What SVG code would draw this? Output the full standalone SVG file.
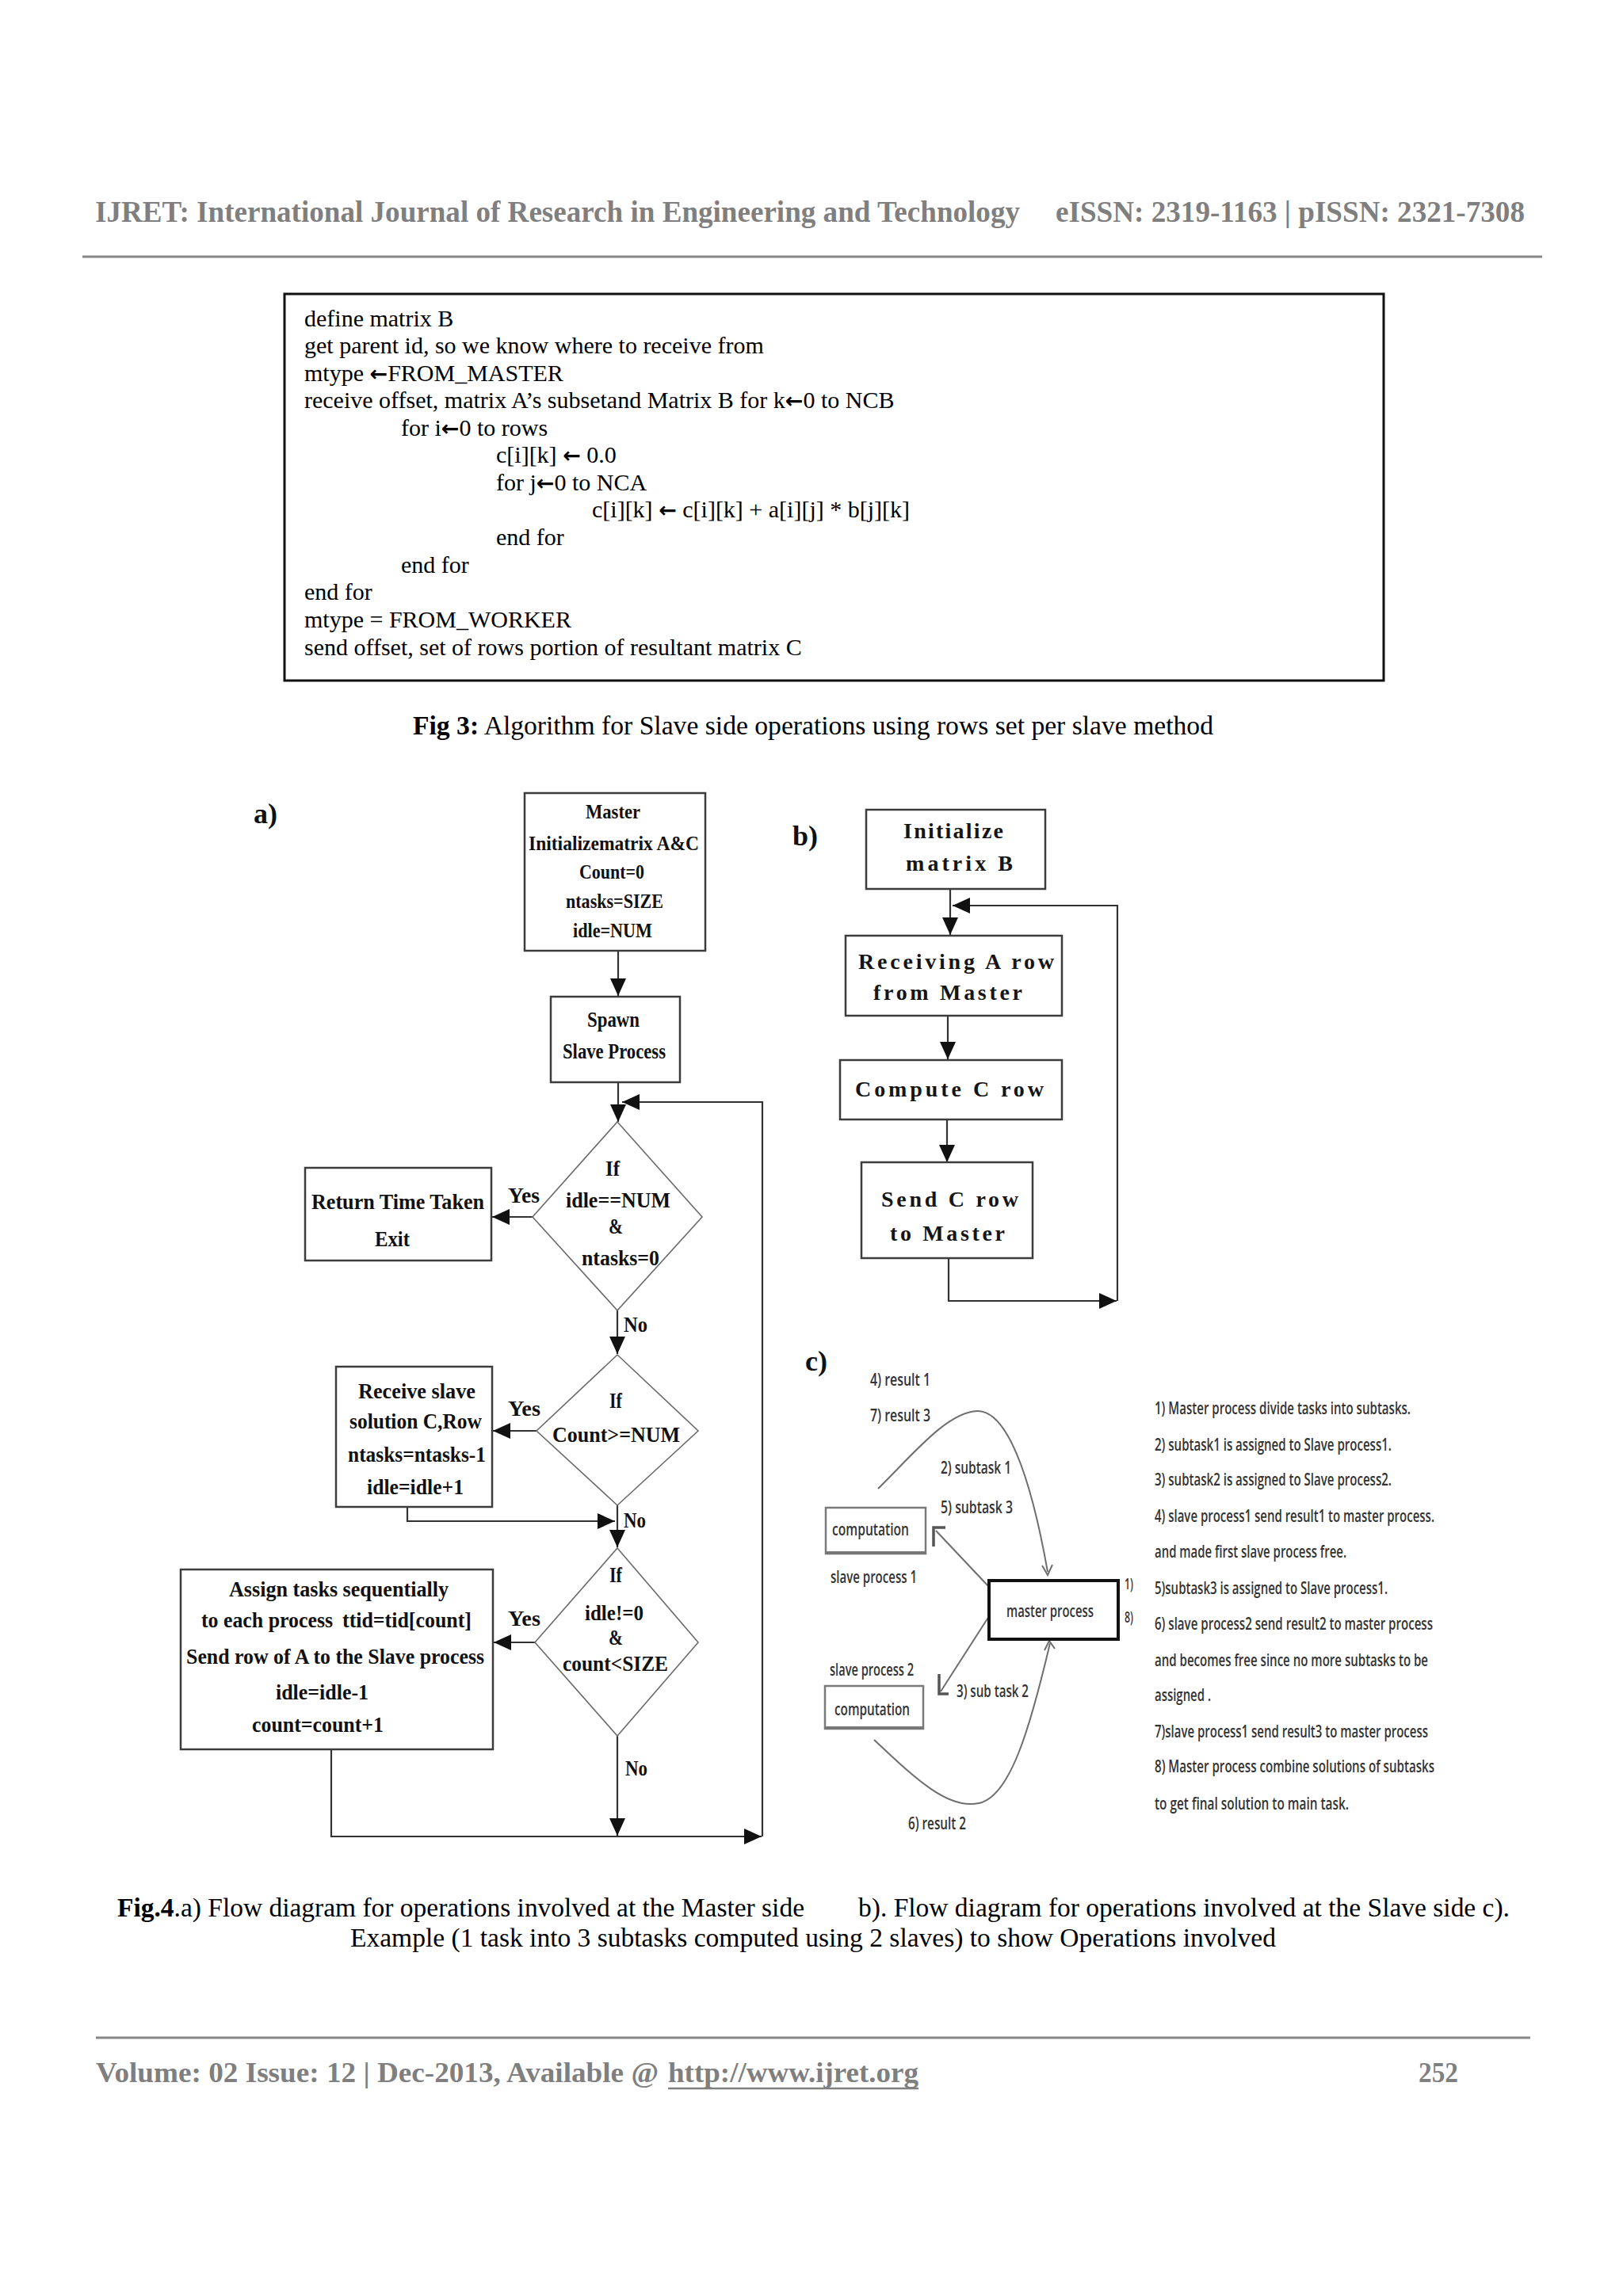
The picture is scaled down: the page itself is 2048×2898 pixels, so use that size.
<svg xmlns="http://www.w3.org/2000/svg" width="2048" height="2898" viewBox="0 0 2048 2898">
<style>
.hdr{font-family:"Liberation Serif","Times New Roman",serif;font-weight:bold;fill:#7f7f7f;}
.alg{font-family:"Liberation Serif","Times New Roman",serif;font-size:30px;fill:#000;}
.arr{font-family:"DejaVu Sans",sans-serif;font-size:27px;font-weight:bold;}
.cap{font-family:"Liberation Serif","Times New Roman",serif;font-size:33px;fill:#000;}
.bold{font-weight:bold;}
.fa{font-family:"Liberation Serif","Times New Roman",serif;font-weight:bold;font-size:27px;fill:#111;}
.fm{font-family:"Liberation Serif","Times New Roman",serif;font-weight:bold;font-size:25px;fill:#111;}
.fb{font-family:"Liberation Serif","Times New Roman",serif;font-weight:bold;font-size:28px;fill:#151515;}
.fc{font-family:"Open Sans","Liberation Sans",sans-serif;font-weight:600;font-size:22px;fill:#333;}
.fn{font-family:"Open Sans","Liberation Sans",sans-serif;font-weight:600;font-size:19px;fill:#333;}
.fl{font-family:"Open Sans","Liberation Sans",sans-serif;font-weight:600;font-size:22px;fill:#333;}
.lab{font-family:"Liberation Serif","Times New Roman",serif;font-weight:bold;font-size:36px;fill:#111;}
.box{fill:#fff;stroke:#3c3c3c;stroke-width:2.5;}
.dia{fill:#fff;stroke:#6a6a6a;stroke-width:1.6;}
.con{fill:none;stroke:#333;stroke-width:2.2;}
.ccon{fill:none;stroke:#6e6e6e;stroke-width:2;}
.chead{fill:none;stroke:#555;stroke-width:3.5;}
.sbox{fill:#fff;stroke:#7a7a7a;stroke-width:2.5;}
.rule{stroke:#888;stroke-width:3;}
</style>
<defs>
<marker id="ah" viewBox="0 0 22 20" refX="22" refY="10" markerWidth="22" markerHeight="20" markerUnits="userSpaceOnUse" orient="auto"><path d="M0,0 L22,10 L0,20 z" fill="#111"/></marker>
</defs>
<rect width="2048" height="2898" fill="#fff"/>

<g id="header">
<text class="hdr" x="120" y="280" font-size="37" textLength="1167" lengthAdjust="spacingAndGlyphs">IJRET: International Journal of Research in Engineering and Technology</text>
<text class="hdr" x="1332" y="280" font-size="37" textLength="592" lengthAdjust="spacingAndGlyphs">eISSN: 2319-1163 | pISSN: 2321-7308</text>
<line class="rule" x1="104" y1="324" x2="1946" y2="324"/>
</g>

<g id="algorithm">
<rect x="359" y="371" width="1387" height="488" fill="none" stroke="#111" stroke-width="3"/>
<text class="alg" x="384" y="412">define matrix B</text>
<text class="alg" x="384" y="446">get parent id, so we know where to receive from</text>
<text class="alg" x="384" y="481">mtype <tspan class="arr">←</tspan>FROM_MASTER</text>
<text class="alg" x="384" y="515">receive offset, matrix A’s subsetand Matrix B for k<tspan class="arr">←</tspan>0 to NCB</text>
<text class="alg" x="506" y="550">for i<tspan class="arr">←</tspan>0 to rows</text>
<text class="alg" x="626" y="584">c[i][k] <tspan class="arr">←</tspan> 0.0</text>
<text class="alg" x="626" y="619">for j<tspan class="arr">←</tspan>0 to NCA</text>
<text class="alg" x="747" y="653">c[i][k] <tspan class="arr">←</tspan> c[i][k] + a[i][j] * b[j][k]</text>
<text class="alg" x="626" y="688">end for</text>
<text class="alg" x="506" y="723">end for</text>
<text class="alg" x="384" y="757">end for</text>
<text class="alg" x="384" y="792">mtype = FROM_WORKER</text>
<text class="alg" x="384" y="827">send offset, set of rows portion of resultant matrix C</text>
</g>
<text id="fig3-caption" class="cap" x="521" y="927" textLength="1010" lengthAdjust="spacingAndGlyphs"><tspan class="bold">Fig 3:</tspan> Algorithm for Slave side operations using rows set per slave method</text>

<!-- a) master flow -->
<text id="label-a" class="lab" x="320" y="1039">a)</text>
<g id="connectors-a">
<path class="con" d="M780,1200 V1257" marker-end="url(#ah)"/>
<path class="con" d="M780,1366 V1416" marker-end="url(#ah)"/>
<path class="con" d="M962,2318 V1391 H785" marker-end="url(#ah)"/>
<path class="con" d="M672,1536 H621" marker-end="url(#ah)"/>
<path class="con" d="M779,1654 V1709" marker-end="url(#ah)"/>
<path class="con" d="M677,1806 H622" marker-end="url(#ah)"/>
<path class="con" d="M514,1902 V1920 H776" marker-end="url(#ah)"/>
<path class="con" d="M779,1900 V1953" marker-end="url(#ah)"/>
<path class="con" d="M675,2073 H623" marker-end="url(#ah)"/>
<path class="con" d="M779,2191 V2317" marker-end="url(#ah)"/>
<path class="con" d="M418,2208 V2318 H961" marker-end="url(#ah)"/>
<text class="fa" x="641" y="1518" textLength="40" lengthAdjust="spacingAndGlyphs">Yes</text>
<text class="fa" x="787" y="1681" textLength="30" lengthAdjust="spacingAndGlyphs">No</text>
<text class="fa" x="641" y="1787" textLength="41" lengthAdjust="spacingAndGlyphs">Yes</text>
<text class="fa" x="787" y="1928" textLength="28" lengthAdjust="spacingAndGlyphs">No</text>
<text class="fa" x="641" y="2052" textLength="41" lengthAdjust="spacingAndGlyphs">Yes</text>
<text class="fa" x="789" y="2241" textLength="28" lengthAdjust="spacingAndGlyphs">No</text>
</g>

<g id="node-master">
<rect class="box" x="662" y="1001" width="228" height="199"/>
<text class="fm"><tspan x="739" y="1033" textLength="69" lengthAdjust="spacingAndGlyphs">Master</tspan><tspan x="667" y="1073" textLength="215" lengthAdjust="spacingAndGlyphs">Initializematrix A&amp;C</tspan><tspan x="731" y="1109" textLength="82" lengthAdjust="spacingAndGlyphs">Count=0</tspan><tspan x="714" y="1146" textLength="123" lengthAdjust="spacingAndGlyphs">ntasks=SIZE</tspan><tspan x="723" y="1183" textLength="100" lengthAdjust="spacingAndGlyphs">idle=NUM</tspan></text>
</g>
<g id="node-spawn">
<rect class="box" x="695" y="1258" width="163" height="108"/>
<text class="fa" x="741" y="1296" textLength="66" lengthAdjust="spacingAndGlyphs">Spawn</text>
<text class="fa" x="710" y="1336" textLength="130" lengthAdjust="spacingAndGlyphs">Slave Process</text>
</g>
<g id="node-decision1">
<polygon class="dia" points="779,1416 886,1536 779,1654 672,1536"/>
<text class="fa" x="764" y="1484" textLength="18" lengthAdjust="spacingAndGlyphs">If</text>
<text class="fa" x="714" y="1524" textLength="132" lengthAdjust="spacingAndGlyphs">idle==NUM</text>
<text class="fa" x="768" y="1557" textLength="18" lengthAdjust="spacingAndGlyphs">&amp;</text>
<text class="fa" x="734" y="1597" textLength="98" lengthAdjust="spacingAndGlyphs">ntasks=0</text>
</g>
<g id="node-return">
<rect class="box" x="385" y="1474" width="235" height="117"/>
<text class="fa" x="393" y="1526" textLength="218" lengthAdjust="spacingAndGlyphs">Return Time Taken</text>
<text class="fa" x="473" y="1573" textLength="44" lengthAdjust="spacingAndGlyphs">Exit</text>
</g>
<g id="node-decision2">
<polygon class="dia" points="779,1710 881,1806 779,1900 677,1806"/>
<text class="fa" x="769" y="1777" textLength="16" lengthAdjust="spacingAndGlyphs">If</text>
<text class="fa" x="697" y="1820" textLength="161" lengthAdjust="spacingAndGlyphs">Count&gt;=NUM</text>
</g>
<g id="node-receive">
<rect class="box" x="424" y="1725" width="197" height="177"/>
<text class="fa" x="452" y="1765" textLength="148" lengthAdjust="spacingAndGlyphs">Receive slave</text>
<text class="fa" x="441" y="1803" textLength="167" lengthAdjust="spacingAndGlyphs">solution C,Row</text>
<text class="fa" x="439" y="1845" textLength="174" lengthAdjust="spacingAndGlyphs">ntasks=ntasks-1</text>
<text class="fa" x="463" y="1886" textLength="122" lengthAdjust="spacingAndGlyphs">idle=idle+1</text>
</g>
<g id="node-decision3">
<polygon class="dia" points="779,1954 881,2073 779,2191 675,2073"/>
<text class="fa" x="769" y="1997" textLength="16" lengthAdjust="spacingAndGlyphs">If</text>
<text class="fa" x="738" y="2045" textLength="74" lengthAdjust="spacingAndGlyphs">idle!=0</text>
<text class="fa" x="768" y="2076" textLength="18" lengthAdjust="spacingAndGlyphs">&amp;</text>
<text class="fa" x="710" y="2109" textLength="133" lengthAdjust="spacingAndGlyphs">count&lt;SIZE</text>
</g>
<g id="node-assign">
<rect class="box" x="228" y="1981" width="394" height="227"/>
<text class="fa" x="289" y="2015" textLength="277" lengthAdjust="spacingAndGlyphs">Assign tasks sequentially</text>
<text class="fa" x="254" y="2054" textLength="166" lengthAdjust="spacingAndGlyphs">to each process</text>
<text class="fa" x="432" y="2054" textLength="163" lengthAdjust="spacingAndGlyphs">ttid=tid[count]</text>
<text class="fa" x="235" y="2100" textLength="376" lengthAdjust="spacingAndGlyphs">Send row of A to the Slave process</text>
<text class="fa" x="348" y="2145" textLength="117" lengthAdjust="spacingAndGlyphs">idle=idle-1</text>
<text class="fa" x="318" y="2186" textLength="166" lengthAdjust="spacingAndGlyphs">count=count+1</text>
</g>

<!-- b) slave flow -->
<text id="label-b" class="lab" x="1000" y="1067">b)</text>
<g id="connectors-b">
<path class="con" d="M1199,1122 V1180" marker-end="url(#ah)"/>
<path class="con" d="M1410,1642 V1143 H1202" marker-end="url(#ah)"/>
<path class="con" d="M1196,1282 V1337" marker-end="url(#ah)"/>
<path class="con" d="M1195,1413 V1467" marker-end="url(#ah)"/>
<path class="con" d="M1197,1588 V1642 H1409" marker-end="url(#ah)"/>
</g>
<g id="node-init-b">
<rect class="box" x="1093" y="1022" width="226" height="100"/>
<text class="fb" x="1140" y="1058" textLength="126" lengthAdjust="spacing">Initialize</text>
<text class="fb" x="1143" y="1099" textLength="135" lengthAdjust="spacing">matrix B</text>
</g>
<g id="node-receiving">
<rect class="box" x="1067" y="1181" width="273" height="101"/>
<text class="fb" x="1083" y="1223" textLength="247" lengthAdjust="spacing">Receiving A row</text>
<text class="fb" x="1102" y="1262" textLength="188" lengthAdjust="spacing">from Master</text>
</g>
<g id="node-compute">
<rect class="box" x="1060" y="1338" width="280" height="75"/>
<text class="fb" x="1079" y="1384" textLength="238" lengthAdjust="spacing">Compute C row</text>
</g>
<g id="node-send">
<rect class="box" x="1087" y="1467" width="216" height="121"/>
<text class="fb" x="1112" y="1523" textLength="173" lengthAdjust="spacing">Send C row</text>
<text class="fb" x="1123" y="1566" textLength="145" lengthAdjust="spacing">to Master</text>
</g>

<!-- c) example -->
<text id="label-c" class="lab" x="1016" y="1730" font-size="32">c)</text>
<g id="connectors-c">
<path class="ccon" d="M1108,1879 C1150,1838 1195,1782 1233,1781 C1270,1780 1300,1860 1322,1984"/>
<path class="ccon" d="M1315,1976 L1322,1988 L1328,1975"/>
<path class="ccon" d="M1103,2196 C1150,2240 1195,2285 1235,2276 C1275,2268 1300,2180 1325,2074"/>
<path class="ccon" d="M1318,2083 L1324,2071 L1331,2081"/>
<path class="ccon" d="M1248,2003 L1181,1932"/>
<path class="chead" d="M1193,1928 H1178 V1952"/>
<path class="ccon" d="M1248,2040 L1187,2135"/>
<path class="chead" d="M1185,2113 V2138 H1197"/>
<text class="fc" x="1098" y="1749" textLength="76" lengthAdjust="spacingAndGlyphs">4) result 1</text>
<text class="fc" x="1098" y="1794" textLength="76" lengthAdjust="spacingAndGlyphs">7) result 3</text>
<text class="fc" x="1187" y="1860" textLength="89" lengthAdjust="spacingAndGlyphs">2) subtask 1</text>
<text class="fc" x="1187" y="1910" textLength="91" lengthAdjust="spacingAndGlyphs">5) subtask 3</text>
<text class="fc" x="1207" y="2142" textLength="91" lengthAdjust="spacingAndGlyphs">3) sub task 2</text>
<text class="fc" x="1146" y="2309" textLength="73" lengthAdjust="spacingAndGlyphs">6) result 2</text>
<text class="fn" x="1419" y="2006" textLength="11" lengthAdjust="spacingAndGlyphs">1)</text>
<text class="fn" x="1419" y="2048" textLength="11" lengthAdjust="spacingAndGlyphs">8)</text>
</g>
<g id="node-slave1">
<rect class="sbox" x="1042" y="1903" width="126" height="58"/>
<line x1="1042" y1="1960" x2="1168" y2="1960" stroke="#777" stroke-width="4"/>
<text class="fc" x="1050" y="1938" textLength="97" lengthAdjust="spacingAndGlyphs">computation</text>
<text class="fc" x="1048" y="1998" textLength="109" lengthAdjust="spacingAndGlyphs">slave process 1</text>
</g>
<g id="node-master-process">
<rect x="1248" y="1995" width="163" height="74" fill="#fff" stroke="#111" stroke-width="4"/>
<text class="fc" x="1270" y="2041" textLength="110" lengthAdjust="spacingAndGlyphs">master process</text>
</g>
<g id="node-slave2">
<text class="fc" x="1047" y="2115" textLength="106" lengthAdjust="spacingAndGlyphs">slave process 2</text>
<rect class="sbox" x="1041" y="2128" width="124" height="54"/>
<line x1="1041" y1="2181" x2="1165" y2="2181" stroke="#777" stroke-width="4"/>
<text class="fc" x="1053" y="2165" textLength="95" lengthAdjust="spacingAndGlyphs">computation</text>
</g>
<g id="steps-c">
<text class="fl"><tspan x="1457" y="1785" textLength="323" lengthAdjust="spacingAndGlyphs">1) Master process divide tasks into subtasks.</tspan><tspan x="1457" y="1831" textLength="299" lengthAdjust="spacingAndGlyphs">2) subtask1 is assigned to Slave process1.</tspan><tspan x="1457" y="1875" textLength="299" lengthAdjust="spacingAndGlyphs">3) subtask2 is assigned to Slave process2.</tspan><tspan x="1457" y="1921" textLength="353" lengthAdjust="spacingAndGlyphs">4) slave process1 send result1 to master process.</tspan><tspan x="1457" y="1966" textLength="242" lengthAdjust="spacingAndGlyphs">and made first slave process free.</tspan><tspan x="1457" y="2012" textLength="294" lengthAdjust="spacingAndGlyphs">5)subtask3 is assigned to Slave process1.</tspan><tspan x="1457" y="2057" textLength="351" lengthAdjust="spacingAndGlyphs">6) slave process2 send result2 to master process</tspan><tspan x="1457" y="2103" textLength="345" lengthAdjust="spacingAndGlyphs">and becomes free since no more subtasks to be</tspan><tspan x="1457" y="2147" textLength="71" lengthAdjust="spacingAndGlyphs">assigned .</tspan><tspan x="1457" y="2193" textLength="345" lengthAdjust="spacingAndGlyphs">7)slave process1 send result3 to master process</tspan><tspan x="1457" y="2237" textLength="353" lengthAdjust="spacingAndGlyphs">8) Master process combine solutions of subtasks</tspan><tspan x="1457" y="2284" textLength="245" lengthAdjust="spacingAndGlyphs">to get final solution to main task.</tspan></text>
</g>

<g id="fig4-caption">
<text class="cap" x="148" y="2419" textLength="867" lengthAdjust="spacingAndGlyphs"><tspan class="bold">Fig.4</tspan>.a) Flow diagram for operations involved at the Master side</text>
<text class="cap" x="1083" y="2419" textLength="822" lengthAdjust="spacingAndGlyphs">b). Flow diagram for operations involved at the Slave side c).</text>
<text class="cap" x="442" y="2457" textLength="1168" lengthAdjust="spacingAndGlyphs">Example (1 task into 3 subtasks computed using 2 slaves) to show Operations involved</text>
</g>

<g id="footer">
<line class="rule" x1="121" y1="2572" x2="1931" y2="2572"/>
<text class="hdr" x="121" y="2628" font-size="36" textLength="710" lengthAdjust="spacingAndGlyphs">Volume: 02 Issue: 12 | Dec-2013, Available @</text>
<text class="hdr" x="843" y="2628" font-size="36" textLength="316" lengthAdjust="spacingAndGlyphs">http://www.ijret.org</text>
<line x1="843" y1="2636" x2="1159" y2="2636" stroke="#7f7f7f" stroke-width="2.5"/>
<text class="hdr" x="1790" y="2628" font-size="36" textLength="50" lengthAdjust="spacingAndGlyphs">252</text>
</g>
</svg>
